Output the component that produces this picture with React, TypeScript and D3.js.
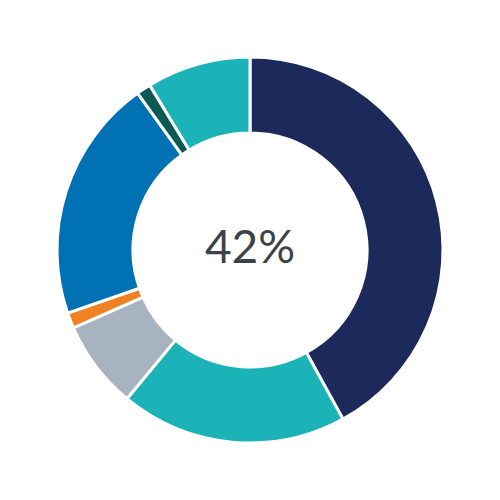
import { useEffect, useRef } from 'react'
import * as d3 from 'd3'

const categories = ['A', 'B', 'C', 'D', 'E', 'F', 'G']
const values = [42, 19, 7.4, 1.3, 20.4, 1.2, 8.7]
const sliceColors = ['#1b2a5a', '#1bb3b7', '#a8b3c1', '#f08223', '#0071b3', '#0b5a55', '#1bb3b7']
const centerLabel = '42%'

export default function App() {
  const ref = useRef<SVGSVGElement>(null)

  useEffect(() => {
    if (!ref.current) return
    const W = 500
    const H = 500
    const outerR = 193
    const innerR = 117

    d3.select(ref.current).selectAll('*').remove()

    const svg = d3.select(ref.current).attr('width', W).attr('height', H)

    svg.append('rect').attr('width', W).attr('height', H).attr('fill', '#ffffff')

    const g = svg.append('g').attr('transform', `translate(${W / 2},${H / 2})`)

    const data = categories.map((c, i) => ({ c, v: values[i], color: sliceColors[i] }))

    const pie = d3
      .pie<{ c: string; v: number; color: string }>()
      .value((d) => d.v)
      .sort(null)

    const arc = d3
      .arc<d3.PieArcDatum<{ c: string; v: number; color: string }>>()
      .innerRadius(innerR)
      .outerRadius(outerR)

    g.selectAll('path')
      .data(pie(data))
      .join('path')
      .attr('d', arc)
      .attr('fill', (d) => d.data.color)
      .attr('stroke', '#ffffff')
      .attr('stroke-width', 3)
      .attr('stroke-linejoin', 'miter')

    // Center value
    g.append('text')
      .attr('x', 0)
      .attr('y', 13)
      .attr('text-anchor', 'middle')
      .attr('font-family', 'Lato, "Open Sans", sans-serif')
      .attr('font-size', 46)
      .attr('fill', '#3d4148')
      .text(centerLabel)
  }, [])

  return (
    <svg
      ref={ref}
      style={{ position: 'absolute', left: 0, top: 0, display: 'block' }}
    />
  )
}
